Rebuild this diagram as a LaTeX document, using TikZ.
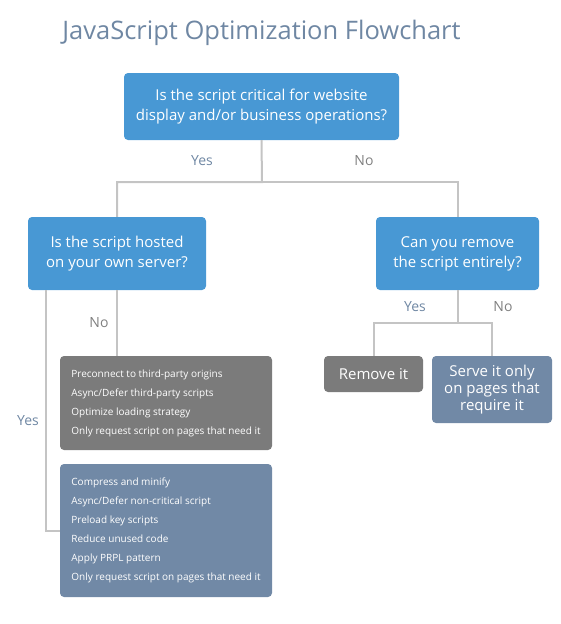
\documentclass[tikz,border=0pt]{standalone}
\usepackage{fontspec}
\setmainfont{Open Sans}
\definecolor{qblue}{HTML}{4898D4}
\definecolor{dgray}{HTML}{7B7B7B}
\definecolor{slate}{HTML}{7189A6}
\definecolor{lgray}{HTML}{C4C4C4}
\definecolor{titlec}{HTML}{6F87A3}
\definecolor{nocol}{HTML}{808080}
\tikzset{
  box/.style={rounded corners=4pt, inner sep=0pt, text=white, align=center, font=\fontsize{15}{20}\selectfont},
  qbox/.style={box, fill=qblue},
  listbox/.style={rounded corners=4pt, inner sep=0pt, text=white, align=left, font=\fontsize{10}{19}\selectfont},
  conn/.style={draw=lgray, line width=2pt},
  yeslbl/.style={text=titlec, font=\fontsize{14}{16}\selectfont},
  nolbl/.style={text=nocol, font=\fontsize{14}{16}\selectfont},
}
\begin{document}
\begin{tikzpicture}[x=1pt,y=-1pt]
\useasboundingbox (0,0) rectangle (560,624);
\node[text=titlec, font=\fontsize{25.5}{28}\selectfont] (title) at (261.5,33) {JavaScript Optimization Flowchart};

\node[qbox, minimum width=275pt, minimum height=67pt] (q1) at (261.5,106.5) {Is the script critical for website\\display and/or business operations?};
\node[qbox, minimum width=178pt, minimum height=73pt] (q2) at (117,253.5) {Is the script hosted\\on your own server?};
\node[qbox, minimum width=163pt, minimum height=73pt] (q3) at (457.5,253.5) {Can you remove\\the script entirely?};

\node[listbox, fill=dgray, minimum width=212pt, minimum height=94pt] (third) at (166,403) {Preconnect to third-party origins\\Async/Defer third-party scripts\\Optimize loading strategy\\Only request script on pages that need it};
\node[listbox, fill=slate, minimum width=212pt, minimum height=133pt] (own) at (166,530.5) {Compress and minify\\Async/Defer non-critical script\\Preload key scripts\\Reduce unused code\\Apply PRPL pattern\\Only request script on pages that need it};

\node[box, fill=dgray, minimum width=99pt, minimum height=36pt] (remove) at (373.5,374) {Remove it};
\node[box, fill=slate, minimum width=120pt, minimum height=67pt, font=\fontsize{15}{17}\selectfont] (serve) at (492,389.5) {Serve it only\\on pages that\\require it};

\coordinate (j1) at (262,182);
\coordinate (j3) at (457.5,323);
\coordinate (ya) at (46,290);
\coordinate (yb) at (46,531);

\draw[conn] (q1.south) -- (j1) -| (q2.north);
\draw[conn] (j1) -| (q3.north);
\draw[conn] (q2.south) -- (q2.south |- third.north);
\draw[conn] (ya) -- (yb) -- (own.west |- yb);
\draw[conn] (q3.south) -- (j3) -| (remove.north);
\draw[conn] (j3) -| (serve.north);

\node[yeslbl] (l1) at (202,161) {Yes};
\node[nolbl] (l2) at (364,161) {No};
\node[nolbl] (l3) at (99,323) {No};
\node[yeslbl] (l4) at (28,421) {Yes};
\node[yeslbl] (l5) at (415,307) {Yes};
\node[nolbl] (l6) at (503,307) {No};
\end{tikzpicture}
\end{document}
